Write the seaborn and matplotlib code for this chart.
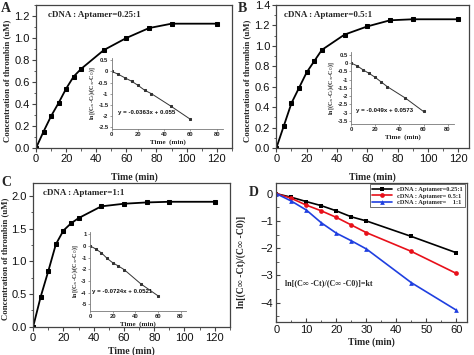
import numpy as np
import pandas as pd
import seaborn as sns
import matplotlib
matplotlib.use("Agg")
import matplotlib.pyplot as plt
from matplotlib.ticker import MultipleLocator, AutoMinorLocator, FormatStrFormatter

# time points of the kinetic curves (min)
time_full = [0, 5, 10, 15, 20, 25, 30, 45, 60, 75, 90, 120]
time_ln = [0, 5, 10, 15, 20, 25, 30, 45, 60]

# concentration of thrombin (uM)
conc_a = [0, 0.15, 0.29, 0.41, 0.54, 0.65, 0.72, 0.89, 1.00, 1.09, 1.13, 1.13]
conc_b = [0, 0.22, 0.44, 0.59, 0.74, 0.85, 0.96, 1.11, 1.19, 1.25, 1.26, 1.26]
conc_c = [0, 0.46, 0.85, 1.26, 1.47, 1.58, 1.66, 1.84, 1.88, 1.90, 1.91, 1.91]

# ln[(Cinf-Ct)/(Cinf-C0)]
ln_a = [0, -0.13, -0.29, -0.44, -0.63, -0.85, -1.00, -1.57, -2.17]
ln_b = [0, -0.17, -0.42, -0.63, -0.87, -1.15, -1.43, -2.12, -2.93]
ln_c = [0, -0.27, -0.60, -1.07, -1.45, -1.73, -2.03, -3.27, -4.28]

ratios = ["0.25:1", "0.5:1", "1:1"]
legend_labels = ["cDNA : Aptamer=0.25:1", "cDNA : Aptamer= 0.5:1", "cDNA : Aptamer=    1:1"]
equations = ["y = -0.0363x + 0.055", "y = -0.049x + 0.0573", "y = -0.0724x + 0.0521"]

sns.set_style("ticks")
plt.rcParams["font.family"] = ["Liberation Sans Narrow", "Liberation Sans", "DejaVu Sans"]
serif = ["Liberation Serif", "DejaVu Serif"]
axcol = "#444444"

fig = plt.figure(figsize=(4.74, 3.55), dpi=100)


def style_main(ax, direction="out"):
    for s in ax.spines.values():
        s.set_color(axcol)
        s.set_linewidth(0.9)
    ax.tick_params(which="both", direction=direction, colors=axcol, labelcolor="#111111",
                   labelsize=8, pad=1.5)
    ax.tick_params(which="major", length=3, width=0.8)
    ax.tick_params(which="minor", length=1.8, width=0.6)
    ax.xaxis.set_minor_locator(AutoMinorLocator(2))
    ax.yaxis.set_minor_locator(AutoMinorLocator(2))


def style_inset(ax, eq, ex, ey):
    ax.patch.set_alpha(0)
    ax.spines["top"].set_visible(False)
    ax.spines["right"].set_visible(False)
    for s in ["left", "bottom"]:
        ax.spines[s].set_color("#777777")
        ax.spines[s].set_linewidth(0.6)
    ax.tick_params(which="both", direction="out", length=1.5, width=0.5, colors="#777777",
                   labelcolor="#222222", labelsize=4.2, pad=1)
    for lab in ax.get_xticklabels() + ax.get_yticklabels():
        lab.set_fontweight("bold")
        lab.set_family(["Liberation Sans", "DejaVu Sans"])
    ax.set_xlabel("Time  (min)", family=serif, fontweight="bold", fontsize=5, labelpad=1.5)
    ax.set_ylabel("ln[(C$_{\\infty}$-C$_t$)/(C$_{\\infty}$-C$_0$)]", family=serif,
                  fontweight="bold", fontsize=4.3, labelpad=1)
    ax.text(ex, ey, eq, fontsize=4.4, fontweight="bold", color="#111111",
            family=["Liberation Sans", "DejaVu Sans"], va="center")


panels = [
    ("A", conc_a, ln_a, [0.076, 0.583, 0.413, 0.403], (0, 1.3), 0.2,
     [0.236, 0.637, 0.235, 0.199], (-2.6, 0.6), 0.5),
    ("B", conc_b, ln_b, [0.583, 0.583, 0.406, 0.403], (0, 1.4), 0.2,
     [0.741, 0.651, 0.216, 0.203], (-3.68, 0.68), 0.5),
    ("C", conc_c, ln_c, [0.070, 0.080, 0.415, 0.405], (0, 2.2), 0.5,
     [0.190, 0.125, 0.203, 0.222], (-5.55, 1.2), 1),
]
xlims = [(0, 130), (0, 127), (0, 130)]
eq_pos = [(5, -1.85), (4, -2.85), (2, -3.95)]
text_x = [0.06, 0.04, 0.05]
letter_pos = [(0.002, 0.995), (0.502, 0.995), (0.002, 0.505), (0.525, 0.475)]
xpads = [6, 6, 2.5]
ylab_x = [-0.125, -0.13, -0.12]

for i, (letter, conc, lnv, rect, ylim, ystep, irect, iylim, istep) in enumerate(panels):
    ax = fig.add_axes(rect)
    sns.lineplot(x=time_full, y=conc, ax=ax, color="black", lw=1.3, marker="s",
                 markersize=3.4, markeredgecolor="black")
    ax.set_xlim(*xlims[i])
    ax.set_ylim(*ylim)
    ax.xaxis.set_major_locator(MultipleLocator(20))
    ax.yaxis.set_major_locator(MultipleLocator(ystep))
    ax.yaxis.set_major_formatter(FormatStrFormatter("%.1f"))
    style_main(ax)
    ax.set_xlabel("Time (min)", family=serif, fontweight="bold", fontsize=7, labelpad=xpads[i])
    ax.set_ylabel("Concentration of thrombin (uM)", family=serif, fontweight="bold",
                  fontsize=6.3)
    ax.yaxis.set_label_coords(ylab_x[i], 0.47)
    ax.text(text_x[i], 0.93, "cDNA : Aptamer=" + ratios[i], transform=ax.transAxes,
            family=serif, fontweight="bold", fontsize=6.5, va="center")
    fig.text(letter_pos[i][0], letter_pos[i][1], letter, family=serif, fontweight="bold",
             fontsize=10, va="top")

    ins = fig.add_axes(irect)
    sns.lineplot(x=time_ln, y=lnv, ax=ins, color="#333333", lw=0.7, marker="s",
                 markersize=1.6, markeredgecolor="#333333")
    ins.set_xlim(0, 85)
    ins.set_ylim(*iylim)
    ins.xaxis.set_major_locator(MultipleLocator(20))
    ins.yaxis.set_major_locator(MultipleLocator(istep))
    ins.yaxis.set_major_formatter(FormatStrFormatter("%g"))
    style_inset(ins, equations[i], *eq_pos[i])

# panel D: linearised kinetics for all three ratios
df = pd.DataFrame({
    "Time": time_ln * 3,
    "lnC": ln_a + ln_b + ln_c,
    "ratio": [legend_labels[0]] * 9 + [legend_labels[1]] * 9 + [legend_labels[2]] * 9,
})
axd = fig.add_axes([0.583, 0.094, 0.402, 0.391])
sns.lineplot(data=df, x="Time", y="lnC", hue="ratio", style="ratio",
             palette=["black", "#e8101a", "#1f3fe0"], markers=["s", "o", "^"],
             dashes=False, lw=1.2, markersize=3.4, markeredgewidth=0, ax=axd)
axd.set_xlim(0, 63.5)
axd.set_ylim(-4.7, 0.4)
axd.xaxis.set_major_locator(MultipleLocator(10))
axd.yaxis.set_major_locator(MultipleLocator(1))
style_main(axd, direction="in")
axd.tick_params(pad=2.5)
axd.set_xlabel("Time (min)", family=serif, fontweight="bold", fontsize=7, labelpad=1.5)
axd.set_ylabel("ln[(C\u221e -Ct)/(C\u221e -C0)]", family=serif, fontweight="bold",
               fontsize=7)
axd.yaxis.set_label_coords(-0.16, 0.43)
axd.text(3, -3.3, "ln[(C\u221e -Ct)/(C\u221e -C0)]=kt", family=serif, fontweight="bold",
         fontsize=5.8, va="center")
leg = axd.legend(loc="upper right", prop={"family": serif, "weight": "bold", "size": 4.6},
                 frameon=True, fancybox=False, edgecolor="#555555", handlelength=3.2,
                 borderpad=0.35, labelspacing=0.15, borderaxespad=0.25, framealpha=1)
leg.get_frame().set_linewidth(0.6)
fig.text(letter_pos[3][0], letter_pos[3][1], "D", family=serif, fontweight="bold",
         fontsize=10, va="top")

fig.savefig("out.png", dpi=100)
